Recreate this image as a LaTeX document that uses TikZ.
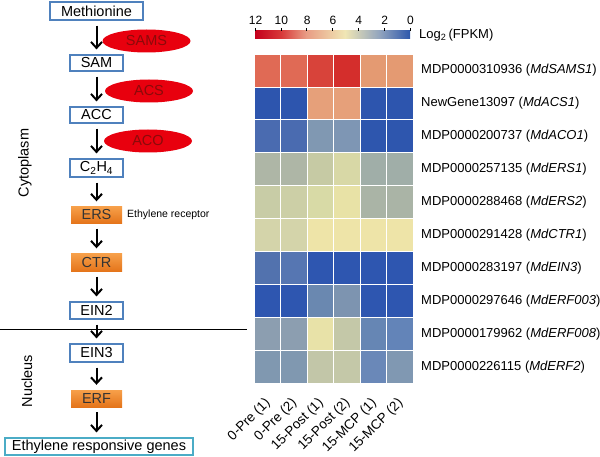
\documentclass[tikz,border=0pt]{standalone}
\usepackage{fontspec}
\setmainfont{Liberation Sans}
\usetikzlibrary{arrows.meta,positioning,shapes.geometric}
\definecolor{boxblue}{HTML}{4F81BD}
\definecolor{boxteal}{HTML}{4BACC6}
\definecolor{enzred}{HTML}{E8000E}
\definecolor{enztext}{HTML}{8C0A0A}
\definecolor{orgtop}{HTML}{F7A04A}
\definecolor{orgbot}{HTML}{E4741A}
\definecolor{c12}{HTML}{C4001C}
\definecolor{c10}{HTML}{D83A3A}
\definecolor{c8}{HTML}{E89C84}
\definecolor{c5}{HTML}{F0E6B4}
\definecolor{c2}{HTML}{93A5BE}
\definecolor{c0}{HTML}{2E58AC}
\pgfdeclarehorizontalshading{fpkm}{100bp}{color(0bp)=(c12); color(25bp)=(c12);
  color(33.5bp)=(c10); color(41.5bp)=(c8); color(54bp)=(c5); color(65bp)=(c2);
  color(75bp)=(c0); color(100bp)=(c0)}

\begin{document}
\begin{tikzpicture}[x=1pt,y=-1pt,
    stepbox/.style={draw=boxblue,line width=1.2pt,fill=white,inner sep=0pt,
                    minimum width=53pt,minimum height=16pt,
                    font=\fontsize{14.5}{16}\selectfont},
    orangebox/.style={top color=orgtop,bottom color=orgbot,inner sep=0pt,
                      minimum width=51pt,minimum height=17pt,text=black!80,
                      font=\fontsize{14.5}{16}\selectfont},
    enzyme/.style={ellipse,fill=enzred,text=enztext,inner sep=0pt,
                   minimum width=88pt,minimum height=23pt,
                   font=\fontsize{14.5}{16}\selectfont},
    flow/.style={-{Straight Barb[length=6pt,width=11pt]},line width=2pt,
                 shorten <=5pt,shorten >=5pt},
    genelbl/.style={anchor=west,inner sep=0pt,font=\fontsize{13}{15}\selectfont},
    samplbl/.style={anchor=east,rotate=45,inner sep=0pt,
                    font=\fontsize{13.5}{15}\selectfont}]
  \useasboundingbox (0,0) rectangle (600,457);

  % ethylene pathway
  \node[stepbox,minimum width=93pt,minimum height=18pt] (meth) at (96.5,11) {Methionine};
  \node[stepbox] (sam)  at (96.5,63)  {SAM};
  \node[stepbox] (acc)  at (96.5,115) {ACC};
  \node[stepbox,minimum height=18pt] (eth) at (96.5,168) {C\textsubscript{2}H\textsubscript{4}};
  \node[orangebox] (ers) at (96.5,215) {ERS};
  \node[orangebox,minimum height=18pt] (ctr) at (96.5,262.5) {CTR};
  \node[stepbox,minimum height=17pt] (ein2) at (96.5,310.5) {EIN2};
  \node[stepbox,minimum height=18pt] (ein3) at (96.5,353) {EIN3};
  \node[orangebox] (erf) at (96.5,398.5) {ERF};
  \node[stepbox,draw=boxteal,minimum width=188pt,minimum height=17pt,
        font=\fontsize{14.5}{16}\selectfont] (genes) at (99,446.5) {Ethylene responsive genes};

  \node[enzyme] (sams) at (146.5,41) {SAMS};
  \node[enzyme] (acs)  at (149,91)   {ACS};
  \node[enzyme] (aco)  at (148,141)  {ACO};
  \node[anchor=west,inner sep=0pt,font=\fontsize{10.5}{12}\selectfont] (rec)
       at (127,215) {Ethylene receptor};

  \foreach \a/\b in {meth/sam,sam/acc,acc/eth,eth/ers,ers/ctr,ctr/ein2,ein2/ein3,ein3/erf}
    \draw[flow] (\a) -- (\b);
  \draw[flow] (erf) -- (erf |- genes.north);

  % compartments
  \draw[line width=0.8pt] (0,329) -- (247,329);
  \node[rotate=90,font=\fontsize{14.5}{16}\selectfont] (cyto) at (25,163) {Cytoplasm};
  \node[rotate=90,font=\fontsize{14.5}{16}\selectfont] (nucl) at (27,381) {Nucleus};

  % colour key
  \shade[shading=fpkm] (255,31) rectangle (410,39);
  \foreach \v [count=\k] in {12,10,8,6,4,2,0}{
    \draw[line width=0.6pt] ({255+(\k-1)*25.83},28.5) -- ++(0,3);
    \node[font=\fontsize{12}{13}\selectfont] (t\k) at ({255.5+(\k-1)*25.83},20) {\v};
  }
  \node[anchor=west,inner sep=0pt,font=\fontsize{13}{14}\selectfont] (key)
       at (419,35) {Log\textsubscript{2}\,(FPKM)};

  % heat map
  \foreach \cols [count=\hr] in {
      {E06A55,E06A55,D8433A,D42E2C,E49A72,E49A72},
      {2D55AE,2D55AE,E6A07A,E6A07A,2D55AE,2D55AE},
      {4A6BB0,4A6BB0,8098B2,7E96B4,2E56AE,2E56AE},
      {AEB6A6,AEB6A6,C6CAA4,D8D8A6,A0AEA8,A0AEA8},
      {C8CCA6,CCCFA6,D8DAA6,E8E2A6,AAB4A6,AAB4A6},
      {D4D4AA,D4D4AA,EEE4A8,EEE4A8,EEE4A8,EEE4A8},
      {5272AE,5676B2,2E56B0,2E56B0,2E56B0,2E56B0},
      {2E56B0,2E56B0,6A88B0,7D94B0,2E56B0,2E56B0},
      {8C9EB0,8C9EB0,E8E2A8,C4C8A8,6686B4,6384B8},
      {8098B0,8098B0,C2C6A8,C4C8A8,6A88B8,8098B2}}{
    \foreach \hx [count=\hc] in \cols {
      \definecolor{cell}{HTML}{\hx}
      \fill[cell,draw=white,line width=0.8pt] ({254+(\hc-1)*26.55},{54+(\hr-1)*32.93})
           rectangle ++(26.55,32.93);
    }
  }

  \foreach \id/\sym [count=\hr] in {MDP0000310936/MdSAMS1,NewGene13097/MdACS1,
      MDP0000200737/MdACO1,MDP0000257135/MdERS1,MDP0000288468/MdERS2,
      MDP0000291428/MdCTR1,MDP0000283197/MdEIN3,MDP0000297646/MdERF003,
      MDP0000179962/MdERF008,MDP0000226115/MdERF2}
    \node[genelbl] (g\hr) at (421,{54+(\hr-0.5)*32.93}) {\id\ (\textit{\sym})};

  \foreach \smp [count=\hc] in {0-Pre (1),0-Pre (2),15-Post (1),15-Post (2),
      15-MCP (1),15-MCP (2)}
    \node[samplbl] (s\hc) at ({254+(\hc-0.5)*26.55+1},401) {\smp};
\end{tikzpicture}
\end{document}
